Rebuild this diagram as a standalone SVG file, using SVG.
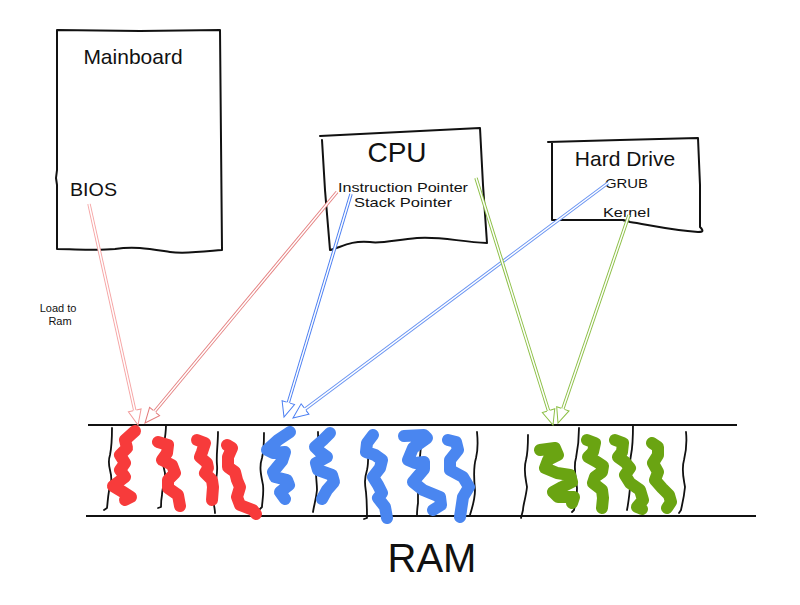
<svg xmlns="http://www.w3.org/2000/svg" width="800" height="605" viewBox="0 0 800 605">
<style>
.box{fill:none;stroke:#111;stroke-width:2;stroke-linejoin:round;stroke-linecap:round}
.t{font-family:"Liberation Sans","DejaVu Sans",sans-serif;fill:#111}
.wig{fill:none;stroke:#111;stroke-width:1.8;stroke-linecap:round;stroke-linejoin:round}
.rail{stroke:#111;stroke-width:2}
.sq{fill:none;stroke-width:12;stroke-linecap:round;stroke-linejoin:round}
.r{stroke:#f73b3b}.b{stroke:#4a86f0}.g{stroke:#6aa412}
.sh{fill:none;stroke-width:3.4;stroke-linecap:butt}
.in{fill:none;stroke:#fff;stroke-width:1.5;stroke-linecap:butt}
</style>
<defs>
<marker id="hr" markerUnits="userSpaceOnUse" viewBox="-1 -9 18 18" markerWidth="18" markerHeight="18" refX="0" refY="0" orient="auto"><path d="M0,-1.7 L0,-6.5 L15,0 L0,6.5 L0,1.7" fill="#fff" stroke="#f29a9a" stroke-width="1"/></marker>
<marker id="hr2" markerUnits="userSpaceOnUse" viewBox="-1 -9 18 18" markerWidth="18" markerHeight="18" refX="0" refY="0" orient="auto"><path d="M0,-1.7 L0,-6.5 L15,0 L0,6.5 L0,1.7" fill="#fff" stroke="#e27a7a" stroke-width="1"/></marker>
<marker id="hb" markerUnits="userSpaceOnUse" viewBox="-1 -9 18 18" markerWidth="18" markerHeight="18" refX="0" refY="0" orient="auto"><path d="M0,-1.7 L0,-6.5 L15,0 L0,6.5 L0,1.7" fill="#fff" stroke="#4a7ef2" stroke-width="1"/></marker>
<marker id="hg" markerUnits="userSpaceOnUse" viewBox="-1 -9 18 18" markerWidth="18" markerHeight="18" refX="0" refY="0" orient="auto"><path d="M0,-1.7 L0,-6.5 L15,0 L0,6.5 L0,1.7" fill="#fff" stroke="#8cbf45" stroke-width="1"/></marker>
</defs>
<rect width="800" height="605" fill="#fff"/>

<g id="mainboard">
<path class="box" d="M57,30 L140,31 L220,30 L221,140 L222,250 C200,252 185,254 170,252 C150,249 135,246 115,249 C95,251 75,249 57,249 L57,185 L56,178 L57,170 Z"/>
<text class="t" x="133" y="64" font-size="21" text-anchor="middle">Mainboard</text>
<text class="t" x="70" y="196" font-size="19" textLength="47" lengthAdjust="spacingAndGlyphs">BIOS</text>
</g>

<g id="cpu">
<path class="box" d="M320,136 L400,132 L480,128 L483,185 L487,243 C460,242 440,236 417,238 C395,240 380,244 370,242 C350,240 340,248 330,250 L325,190 L322,140"/>
<text class="t" x="397" y="162" font-size="28" text-anchor="middle">CPU</text>
<text class="t" x="338" y="192" font-size="13" textLength="130" lengthAdjust="spacingAndGlyphs">Instruction Pointer</text>
<text class="t" x="354" y="207" font-size="13" textLength="98" lengthAdjust="spacingAndGlyphs">Stack Pointer</text>
</g>

<g id="harddrive">
<path class="box" d="M548,142 L620,140 L698,138 L700,185 L700,227 C704,231 703,232 698,232 C670,230 645,224 630,222 C626,220 625,221 623,220 L552,220 L552,143"/>
<text class="t" x="625" y="166" font-size="21" text-anchor="middle">Hard Drive</text>
<text class="t" x="605" y="188" font-size="13" textLength="43" lengthAdjust="spacingAndGlyphs">GRUB</text>
<text class="t" x="603" y="217" font-size="13" textLength="47" lengthAdjust="spacingAndGlyphs">Kernel</text>
</g>

<g id="load-label">
<text class="t" x="58" y="312" font-size="11" text-anchor="middle">Load to</text>
<text class="t" x="60" y="325" font-size="11" text-anchor="middle">Ram</text>
</g>

<g id="ram">
<line class="rail" x1="88" y1="425" x2="737" y2="425"/>
<line class="rail" x1="86" y1="516" x2="756" y2="516"/>
<path class="wig" d="M112,428 C112,440 112,445 110,455 C106,467 113,472 111,482 C108,492 108,500 107,508 L104,510"/>
<path class="wig" d="M166,425 C166,437 163,447 162,457 C162,467 166,470 165,477 C164,485 162,490 162,495 C161,500 161,504 161,507 L158,508"/>
<path class="wig" d="M218,432 C218,445 216,455 217,465 C218,475 215,485 213,493 C212,500 215,507 215,513"/>
<path class="wig" d="M264,433 C264,443 264,450 262,458 C259,467 261,475 263,485 C264,495 262,502 262,507 L258,511"/>
<path class="wig" d="M318,432 C318,445 320,452 318,460 C314,470 317,480 317,490 C316,500 314,505 313,512"/>
<path class="wig" d="M368,440 C368,452 369,462 367,470 C364,480 365,485 366,492 C367,502 367,510 367,518 L364,519"/>
<path class="wig" d="M421,445 C420,460 418,470 418,480 C418,490 418,497 418,503 C417,510 417,513 417,515"/>
<path class="wig" d="M477,432 C478,442 478,450 476,458 C473,468 474,480 475,490 C475,500 472,508 470,515"/>
<path class="wig" d="M528,435 C528,445 528,452 526,460 C523,470 526,480 527,487 C526,497 523,505 523,510 L521,518"/>
<path class="wig" d="M579,428 C579,438 578,448 576,458 C573,467 576,478 577,488 C577,498 575,505 574,510 L572,512"/>
<path class="wig" d="M633,425 C633,435 633,445 631,455 C629,465 630,478 630,488 C629,498 628,505 627,510"/>
<path class="wig" d="M686,432 C687,442 686,452 684,460 C681,470 684,480 685,487 C684,498 682,505 681,510 L679,513"/>

<polyline class="sq r" points="135,431 125,440 127,448 120,455 125,463 120,470 125,477 113,486 123,492 131,497 125,500"/>
<polyline class="sq r" points="158,442 168,445 167,453 162,460 172,465 175,473 168,480 168,488 178,495 180,506"/>
<polyline class="sq r" points="197,440 205,443 202,452 200,457 207,463 208,468 205,473 212,480 213,487 212,500"/>
<polyline class="sq r" points="227,445 232,448 228,457 228,467 235,472 237,480 240,487 237,497 240,505 253,510 256,514"/>

<polyline class="sq b" points="290,432 278,440 267,450 273,453 285,452 282,461 273,472 275,477 287,480 289,485 280,492 285,499"/>
<polyline class="sq b" points="330,433 323,440 315,447 320,452 327,457 316,463 318,470 332,475 334,482 327,490 322,499"/>
<polyline class="sq b" points="373,435 367,443 366,452 375,455 382,460 380,468 373,477 378,485 382,493 378,498 385,507 387,518"/>
<polyline class="sq b" points="404,436 424,435 427,438 413,448 408,460 415,463 424,462 424,469 413,482 423,490 440,497 441,505 433,510"/>
<polyline class="sq b" points="448,440 456,442 458,450 450,460 450,470 463,477 469,487 463,497 460,517"/>

<polyline class="sq g" points="540,450 555,448 558,455 548,460 545,468 557,473 570,475 572,482 562,487 553,492 558,497 574,497 572,503"/>
<polyline class="sq g" points="587,440 595,443 593,452 588,457 597,462 603,466 602,472 595,477 593,483 602,490 603,498 602,508"/>
<polyline class="sq g" points="615,440 623,443 622,452 618,457 625,462 630,468 625,475 630,483 640,490 643,500 637,507 642,509"/>
<polyline class="sq g" points="652,443 658,447 658,455 653,463 658,472 655,480 662,488 669,495 671,502 667,508"/>

<text class="t" x="432" y="572" font-size="40" text-anchor="middle">RAM</text>
</g>

<g id="connectors">
<line class="sh" stroke="#f6a5a5" x1="89" y1="204" x2="134.75" y2="410.36"/>
<line class="in" x1="89" y1="204" x2="134.75" y2="410.36" marker-end="url(#hr)"/>
<line class="sh" stroke="#e58080" x1="337" y1="192" x2="154.59" y2="411.47"/>
<line class="in" x1="337" y1="192" x2="154.59" y2="411.47" marker-end="url(#hr2)"/>
<line class="sh" stroke="#4a7ef2" x1="351" y1="194" x2="288.32" y2="402.63"/>
<line class="in" x1="351" y1="194" x2="288.32" y2="402.63" marker-end="url(#hb)"/>
<line class="sh" stroke="#6b95f2" x1="608" y1="183" x2="305.02" y2="409.03"/>
<line class="in" x1="608" y1="183" x2="305.02" y2="409.03" marker-end="url(#hb)"/>
<line class="sh" stroke="#8cbf45" x1="476" y1="178" x2="548.54" y2="410.68"/>
<line class="in" x1="476" y1="178" x2="548.54" y2="410.68" marker-end="url(#hg)"/>
<line class="sh" stroke="#8cbf45" x1="629" y1="215" x2="562.85" y2="408.81"/>
<line class="in" x1="629" y1="215" x2="562.85" y2="408.81" marker-end="url(#hg)"/>
</g>
</svg>
